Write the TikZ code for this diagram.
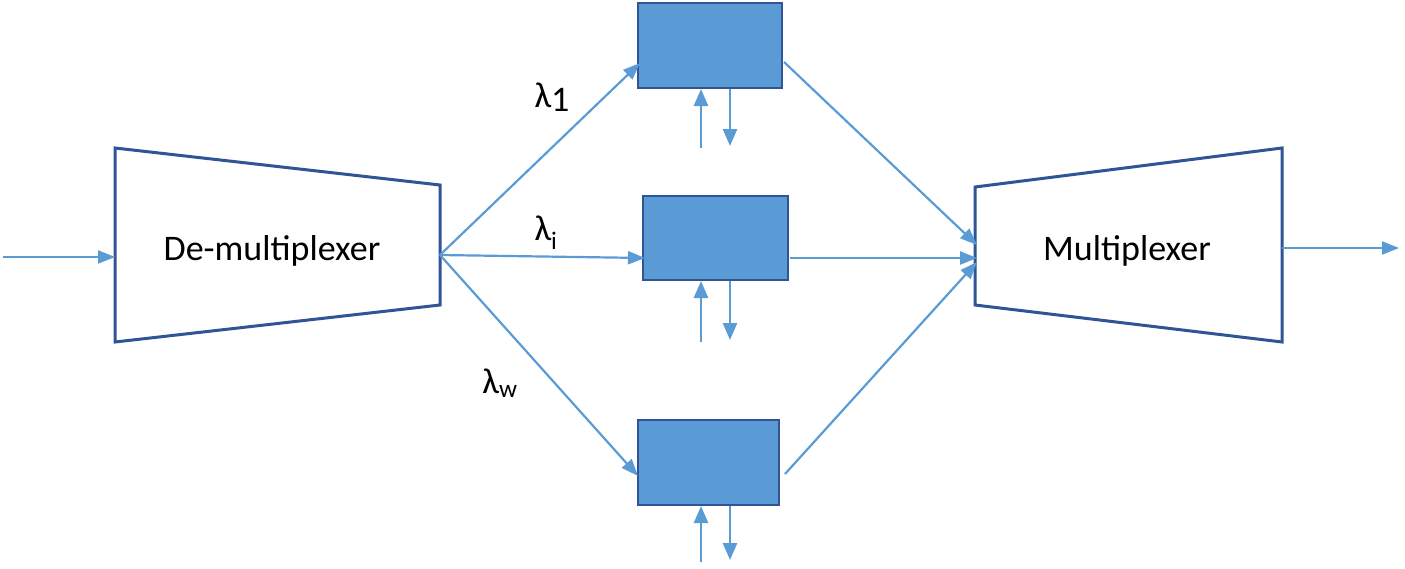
\documentclass[tikz,border=0pt]{standalone}
\usepackage{fontspec}
\setmainfont{Carlito}
\usetikzlibrary{arrows.meta}
\definecolor{ln}{HTML}{5B9BD5}
\definecolor{dk}{HTML}{2F5597}
\begin{document}
\begin{tikzpicture}[x=1pt,y=-1pt,
  conn/.style={ln,line width=2.2pt,-{Triangle[length=17pt,width=13pt]}},
  thin/.style={ln,line width=2.6pt,-{Triangle[length=17pt,width=14pt]}},
  box/.style={draw=dk,fill=ln,line width=2.4pt},
  trap/.style={draw=dk,fill=white,line width=3pt},
  lbl/.style={font=\fontsize{36}{40}\selectfont}]
\useasboundingbox (0,0) rectangle (1405,568);
\draw[trap] (115,148) -- (440,185) -- (440,305) -- (115,342) -- cycle;
\node[lbl] (dm) at (272,251) {De-multiplexer};
\draw[trap] (975,187) -- (1282,148) -- (1282,342) -- (975,305) -- cycle;
\node[lbl] (mx) at (1127,251) {Multiplexer};
\draw[box] (638,3) rectangle (782,88);
\draw[box] (643,196) rectangle (788,280);
\draw[box] (638,420) rectangle (779,505);
\coordinate (src) at (3,257); \coordinate (dmin) at (115,257);
\coordinate (dmo) at (440,255);
\coordinate (b1i) at (640,63); \coordinate (b2i) at (645,258); \coordinate (b3i) at (638,476);
\coordinate (b1o) at (784,62); \coordinate (b2o) at (790,258); \coordinate (b3o) at (785,474);
\coordinate (m1) at (977,245); \coordinate (m2) at (977,258); \coordinate (m3) at (977,262);
\coordinate (mxo) at (1282,248); \coordinate (out) at (1399,248);
\draw[conn] (src) -- (dmin);
\draw[conn] (dmo) -- (b1i);
\draw[conn] (dmo) -- (b2i);
\draw[conn] (dmo) -- (b3i);
\draw[conn] (b1o) -- (m1);
\draw[conn] (b2o) -- (m2);
\draw[conn] (b3o) -- (m3);
\draw[conn] (mxo) -- (out);
\foreach \t/\b in {88/148,280/342,505/562}{
  \draw[thin] (701,\b) -- (701,\t+1);
  \draw[thin] (730,\t+1) -- (730,\b-2);
}
\node[lbl] (l1) at (552,97) {λ\raisebox{-4pt}{1}};
\node[lbl] (li) at (546,233) {λ\textsubscript{i}};
\node[lbl] (lw) at (500,383) {λ\textsubscript{w}};
\end{tikzpicture}
\end{document}
